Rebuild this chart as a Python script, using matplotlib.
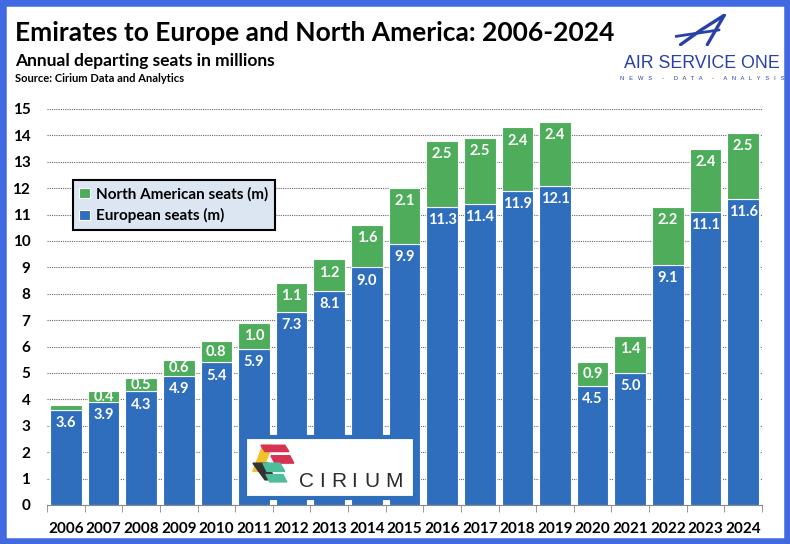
import matplotlib
matplotlib.use("Agg")
import matplotlib.pyplot as plt
from matplotlib.patches import Rectangle, Polygon
import numpy as np

plt.rcParams['font.family'] = ['Lato', 'DejaVu Sans']

years = [str(y) for y in range(2006, 2025)]
european = [3.6, 3.9, 4.3, 4.9, 5.4, 5.9, 7.3, 8.1, 9.0, 9.9,
            11.3, 11.4, 11.9, 12.1, 4.5, 5.0, 9.1, 11.1, 11.6]
north_american = [0.2, 0.4, 0.5, 0.6, 0.8, 1.0, 1.1, 1.2, 1.6, 2.1,
                  2.5, 2.5, 2.4, 2.4, 0.9, 1.4, 2.2, 2.4, 2.5]
# 2006 North American slice is not labelled in the source chart
na_labels = [None, "0.4", "0.5", "0.6", "0.8", "1.0", "1.1", "1.2", "1.6", "2.1",
             "2.5", "2.5", "2.4", "2.4", "0.9", "1.4", "2.2", "2.4", "2.5"]

BLUE = "#2F6EBD"
GREEN = "#4EAD5B"
FRAME = "#4169E1"
LOGO_BLUE = "#2841A8"

fig = plt.figure(figsize=(7.9, 5.44), dpi=100)
fig.patch.set_facecolor("white")
fig.patches.append(Rectangle((0, 0), 1, 1, transform=fig.transFigure,
                             fill=False, edgecolor=FRAME, linewidth=9, zorder=10))

ax = fig.add_axes([0.0595, 0.0717, 0.905, 0.728])
x = np.arange(len(years))
ax.bar(x, european, width=0.84, color=BLUE, edgecolor="white", linewidth=0.8,
       label="European seats (m)", zorder=3)
ax.bar(x, north_american, width=0.84, bottom=european, color=GREEN,
       edgecolor="white", linewidth=0.8, label="North American seats (m)", zorder=3)

for i in range(len(years)):
    e = european[i]
    ax.text(x[i], e - 0.5, f"{e:.1f}", ha="center", va="center", color="white",
            fontsize=10.5, fontweight="bold", zorder=5)
    if na_labels[i]:
        n = north_american[i]
        off = min(0.5, n / 2)
        ax.text(x[i], e + n - off, na_labels[i], ha="center", va="center",
                color="white", fontsize=10.5, fontweight="bold", zorder=5)

ax.set_xlim(-0.5, len(years) - 0.5)
ax.set_ylim(0, 15)
ax.set_yticks(range(0, 16))
ax.yaxis.grid(True, linestyle=(0, (1, 1)), color="#666666", linewidth=0.8, zorder=0)
ax.set_axisbelow(True)
for s in ["top", "right", "left"]:
    ax.spines[s].set_visible(False)
ax.spines["bottom"].set_color("#888888")
ax.tick_params(axis="y", length=0, labelsize=11, pad=12)
ax.set_xticks(x)
ax.set_xticklabels(years, fontsize=11, fontweight="bold")
ax.tick_params(axis="x", length=0, pad=12)
ax.set_xticks(np.arange(-0.5, len(years)), minor=True)
ax.tick_params(axis="x", which="minor", length=5, color="#888888", direction="out")
for lab in ax.get_yticklabels():
    lab.set_fontweight("bold")

handles, labels = ax.get_legend_handles_labels()
leg = ax.legend(handles[::-1], labels[::-1], loc="upper left",
                bbox_to_anchor=(0.025, 0.84), frameon=True, fancybox=False,
                prop={"weight": "bold", "size": 11}, handlelength=0.7,
                handleheight=0.7, handletextpad=0.4, borderpad=0.45, labelspacing=0.45)
leg.get_frame().set_facecolor("#DCE6F2")
leg.get_frame().set_edgecolor("black")
leg.get_frame().set_linewidth(1.5)
leg.get_frame().set_alpha(1)
leg.set_zorder(6)

# titles
fig.text(0.019, 0.94, "Emirates to Europe and North America: 2006-2024",
         fontsize=19, fontweight="bold", va="center")
fig.text(0.019, 0.888, "Annual departing seats in millions",
         fontsize=12.5, fontweight="bold", va="center")
fig.text(0.019, 0.855, "Source: Cirium Data and Analytics",
         fontsize=8, fontweight="bold", va="center")

# Air Service One logo
fig.text(0.889, 0.884, "AIR SERVICE ONE", fontsize=12.8, color=LOGO_BLUE,
         ha="center", va="center", family="Liberation Sans")
fig.text(0.889, 0.855, "N   E   W   S      -      D   A   T   A      -      A   N   A   L   Y   S   I   S",
         fontsize=4.2, color=LOGO_BLUE, ha="center", va="center", family="Liberation Sans")
lax = fig.add_axes([0.855, 0.915, 0.065, 0.06])
lax.axis("off")
lax.set_xlim(0, 1)
lax.set_ylim(0, 1)
lax.plot([0.1, 0.5, 0.95], [0.05, 0.5, 0.95], color=LOGO_BLUE, lw=2.4,
         solid_capstyle="round")
lax.plot([0.95, 0.62], [0.95, 0.05], color=LOGO_BLUE, lw=2.4, solid_capstyle="round")
lax.plot([0.0, 0.85], [0.3, 0.5], color=LOGO_BLUE, lw=2.0, solid_capstyle="round")

# Cirium logo box
cax = fig.add_axes([0.31, 0.085, 0.215, 0.112])
cax.set_xlim(0, 10)
cax.set_ylim(0, 5)
cax.set_xticks([])
cax.set_yticks([])
cax.set_facecolor("white")
for s in cax.spines.values():
    s.set_edgecolor(BLUE)
    s.set_linewidth(3)
cax.set_zorder(7)
cax.add_patch(Polygon([[0.47, 2.16], [1.06, 4.31], [1.6, 4.31], [1.0, 2.16]], color="#F2C12E"))
cax.add_patch(Polygon([[0.94, 4.31], [2.35, 4.31], [2.59, 3.79], [1.18, 3.79]], color="#D63352"))
cax.add_patch(Polygon([[1.53, 3.45], [2.65, 3.45], [2.88, 2.84], [1.76, 2.84]], color="#D63352"))
cax.add_patch(Polygon([[0.47, 2.84], [1.35, 2.84], [1.76, 1.47], [1.18, 1.47]], color="#333333"))
cax.add_patch(Polygon([[1.06, 2.84], [2.06, 2.84], [2.35, 2.16], [1.3, 2.16]], color="#4DBD9B"))
cax.add_patch(Polygon([[1.24, 1.9], [2.24, 1.9], [2.47, 1.3], [1.47, 1.3]], color="#4DBD9B"))
for cx, ch in zip([3.6, 4.55, 5.5, 6.45, 7.45, 8.75], "CIRIUM"):
    cax.text(cx, 0.85, ch, fontsize=15, color="#2B2B2B", ha="center", va="baseline",
             family="Liberation Sans")

fig.savefig("out.png", dpi=100)
